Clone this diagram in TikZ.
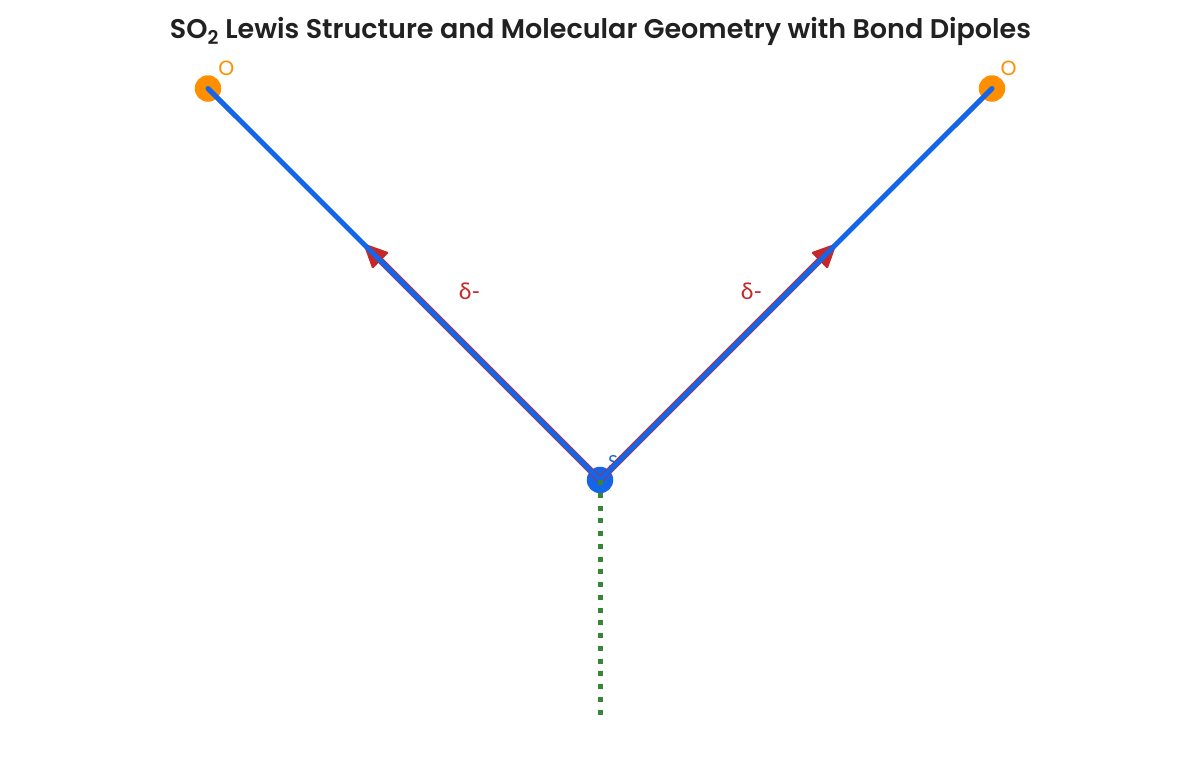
\documentclass[tikz,border=0pt]{standalone}
\usepackage{fontspec}
\setmainfont{Poppins}
\newfontfamily\titlefont{Poppins SemiBold}
\newfontfamily\labelfont{Lato}
\usetikzlibrary{arrows.meta}
\definecolor{bondblue}{HTML}{1565E8}
\definecolor{oxy}{HTML}{FF8F00}
\definecolor{dipred}{HTML}{C62828}
\definecolor{lpgreen}{HTML}{388538}
\definecolor{ink}{HTML}{212121}
\tikzset{
  atomO/.style={circle,fill=oxy,minimum size=26.5pt,inner sep=0pt},
  atomS/.style={circle,fill=bondblue,minimum size=26.5pt,inner sep=0pt},
  bond/.style={draw=bondblue,line width=5pt,line cap=round},
  dipole/.style={draw=dipred,line width=6.5pt,-{Triangle[length=25pt,width=23pt,line width=2pt,round]}},
  lonepair/.style={draw=lpgreen,line width=5pt,dash pattern=on 5pt off 7.75pt},
  elabel/.style={inner sep=0pt,font=\labelfont\fontsize{20}{20}\selectfont},
  dlabel/.style={inner sep=0pt,text=dipred,font=\labelfont\fontsize{23}{23}\selectfont}
}
\begin{document}
\begin{tikzpicture}[x=1pt,y=-1pt]
\useasboundingbox (0,0) rectangle (1200,763);
\node[inner sep=0pt,text=ink,font=\titlefont\fontsize{27}{30}\selectfont] (title) at (600.5,31.5) {SO\textsubscript{2} Lewis Structure and Molecular Geometry with Bond Dipoles};
\node[atomO] (O1) at (208,88.5) {};
\node[atomO] (O2) at (992,88.5) {};
\node[atomS] (S) at (600,480) {};
\node[elabel,text=oxy] (lO1) at (226.5,68) {O};
\node[elabel,text=oxy] (lO2) at (1008.5,68) {O};
\node[elabel,text=bondblue,font=\labelfont\fontsize{18}{18}\selectfont] (lS) at (613,462.5) {S};
\node[dlabel] (d1) at (469.5,291) {δ-};
\node[dlabel] (d2) at (751.5,291) {δ-};
\coordinate (tipL) at (364,244);
\coordinate (tipR) at (836,244);
\coordinate (lpend) at (600,714.5);
\draw[dipole] (S.center) -- (tipL);
\draw[dipole] (S.center) -- (tipR);
\draw[bond] (S.center) -- (O1.center);
\draw[bond] (S.center) -- (O2.center);
\draw[lonepair] (S.center) -- (lpend);
\end{tikzpicture}
\end{document}
